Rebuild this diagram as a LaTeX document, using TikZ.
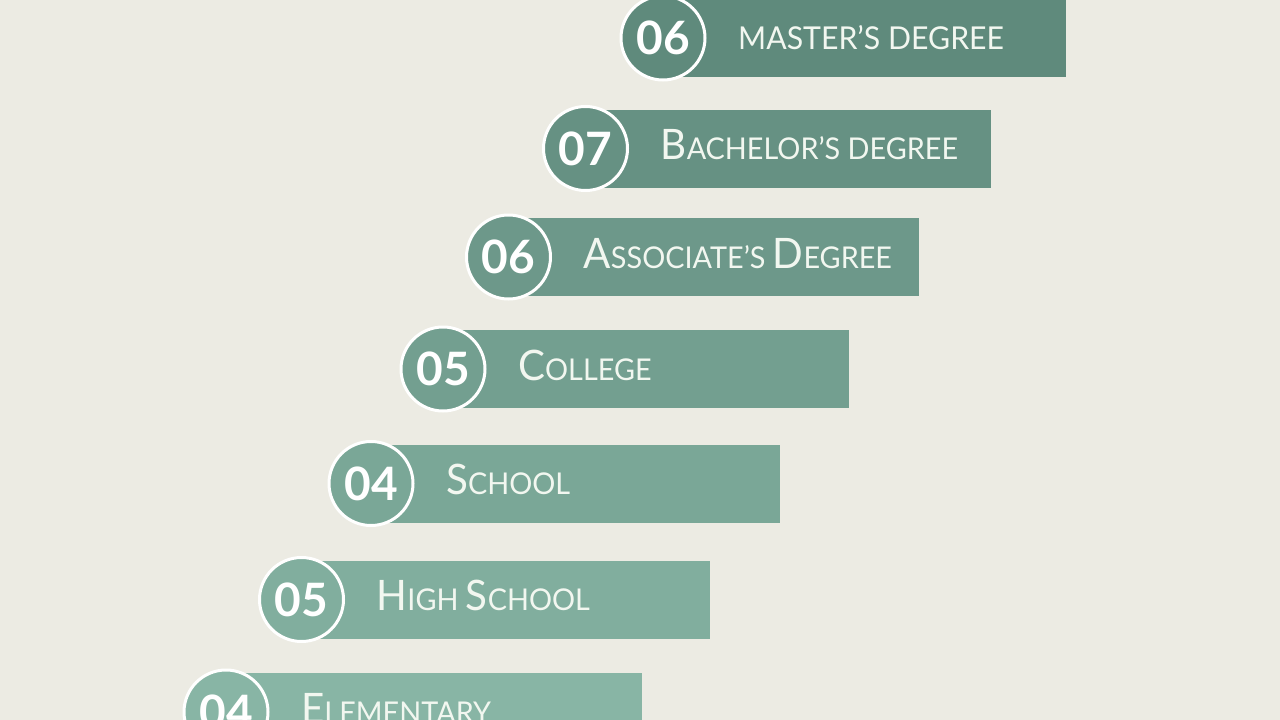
\documentclass[tikz,border=0pt]{standalone}
\usepackage{fontspec}
\setmainfont{Lato}
\definecolor{bgc}{RGB}{236,235,227}
\definecolor{rowtop}{RGB}{95,138,124}
\definecolor{rowbot}{RGB}{136,181,165}
\definecolor{txtc}{RGB}{242,247,240}
\newcommand\capbig[1]{{\fontsize{42}{42}\selectfont #1}}
\newcommand\capmid[1]{{\fontsize{31.5}{31.5}\selectfont #1}}
\tikzset{
  barbox/.style={rectangle, inner sep=0pt, draw=none, minimum height=78pt, anchor=west},
  numdisc/.style={circle, inner sep=0pt, draw=white, line width=3pt, minimum size=84pt,
    text=white, font=\fontsize{46}{46}\selectfont\bfseries},
  label/.style={anchor=base west, inner sep=0pt, text=txtc, font=\fontsize{30}{30}\selectfont}
}
\begin{document}
\begin{tikzpicture}[x=1pt,y=-1pt]
\useasboundingbox (0,0) rectangle (1280,720);
\fill[bgc] (0,0) rectangle (1280,720);
\foreach \i/\cx/\cy/\rx/\num/\txt in {
  1/663/38/1066/06/{\capmid{MASTER'S DEGREE}},
  2/585.5/148.5/991/07/{\capbig{B}ACHELOR'S DEGREE},
  3/508.5/257/919/06/{\capbig{A}SSOCIATE'S \capbig{D}EGREE},
  4/443/369/849/05/{\capbig{C}OLLEGE},
  5/371/483.5/780/04/{\capbig{S}CHOOL},
  6/301.5/599.5/710/05/{\capbig{H}IGH \capbig{S}CHOOL},
  7/226/712/642/04/{\capbig{E}LEMENTARY}}{
  \pgfmathsetmacro\p{(\i-1)/6*100}
  \pgfmathsetmacro\w{\rx-\cx}
  \colorlet{rc}{rowbot!\p!rowtop}
  \node (bar\i) [barbox, fill=rc, minimum width=\w pt] at (\cx,\cy) {};
  \node (disc\i) [numdisc, fill=rc] at (\cx,\cy) {\num};
  \node (lab\i) [label, xscale=0.96] at (\cx+75,\cy+11) {\txt};
}
\end{tikzpicture}
\end{document}
